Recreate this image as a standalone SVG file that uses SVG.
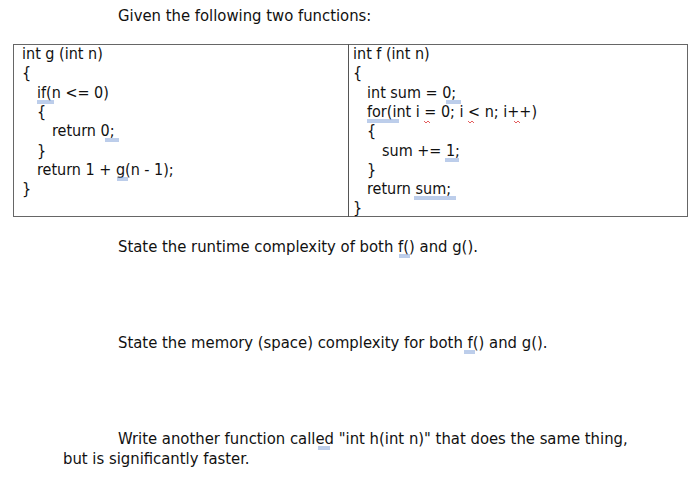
<svg xmlns="http://www.w3.org/2000/svg" width="700" height="487" viewBox="0 0 700 487">
<style>
text{font-family:"DejaVu Sans Condensed","DejaVu Sans",sans-serif;font-size:16.5px;fill:#111}
.c text{font-size:16px}
.u{stroke:#7a9cd6;stroke-width:1;fill:none}
.w{stroke:#d33;stroke-width:0.8;fill:none}
</style>
<rect width="700" height="487" fill="#fff"/>
<text x="118" y="21">Given the following two functions:</text>
<g id="table">
<rect x="13.5" y="44.5" width="674" height="172" fill="none" stroke="#666"/>
<line x1="348.5" y1="44" x2="348.5" y2="217" stroke="#555"/>
</g>
<g id="g-func" class="c">
<text x="22" y="59">int g (int n)</text>
<text x="22" y="78">{</text>
<text x="37" y="98">if(n &lt;= 0)</text>
<text x="37" y="117">{</text>
<text x="52" y="136">return 0;</text>
<text x="37" y="156">}</text>
<text x="37" y="175">return 1 + g(n - 1);</text>
<text x="22" y="194">}</text>
<path class="u" d="M37 101H54M37 103H54M105 139H119M105 141H119M117 178H128M117 180H128"/>
</g>
<g id="f-func" class="c">
<text x="353" y="59">int f (int n)</text>
<text x="353" y="78">{</text>
<text x="367" y="98">int sum = 0;</text>
<text x="367" y="117">for(int i = 0; i &lt; n; i++)</text>
<text x="367" y="136">{</text>
<text x="382" y="156">sum += 1;</text>
<text x="367" y="175">}</text>
<text x="367" y="194">return sum;</text>
<text x="353" y="213">}</text>
<path class="u" d="M446 101H461M446 103H461M367 120H399M367 122H399M445 159H459M445 161H459M414 197H456M414 199H456"/>
<path class="w" d="M424 121l2 2 2-2 2 2M468 121l2 2 2-2 2 2M514 121l2 2 2-2 2 2"/>
</g>
<g id="questions">
<text x="118" y="252">State the runtime complexity of both f() and g().</text>
<text x="118" y="348">State the memory (space) complexity for both f() and g().</text>
<text x="118" y="444">Write another function called "int h(int n)" that does the same thing,</text>
<text x="63" y="464">but is significantly faster.</text>
<path class="u" d="M399 255H410M399 257H410M464 351H475M464 353H475M318 447H330M318 449H330"/>
</g>
</svg>
